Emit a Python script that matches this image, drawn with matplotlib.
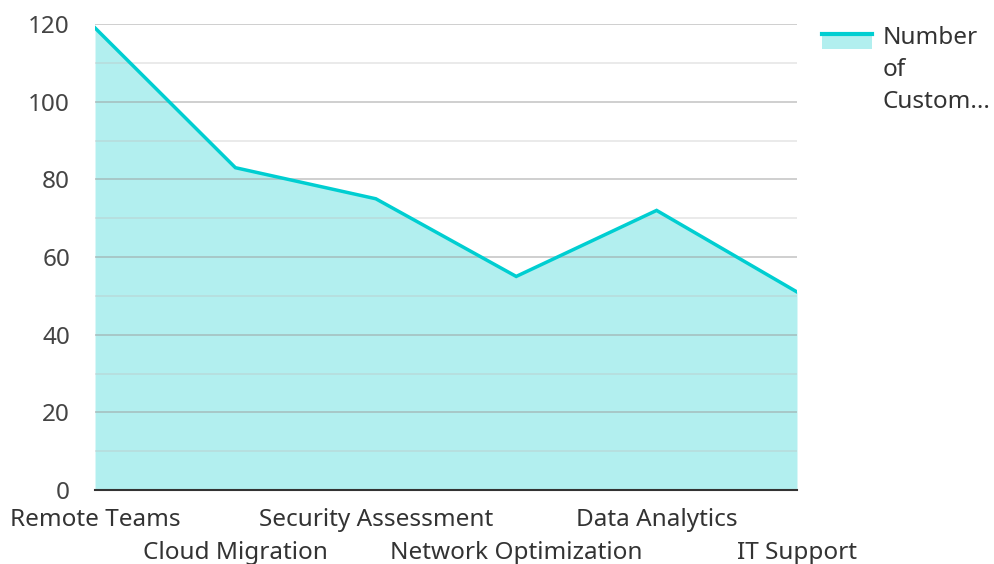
import matplotlib.pyplot as plt
from matplotlib.legend_handler import HandlerBase
from matplotlib.patches import Rectangle
from matplotlib.lines import Line2D

plt.rcParams['font.family'] = ['Noto Sans', 'DejaVu Sans']

# data
services = ["Remote Teams", "Cloud Migration", "Security Assessment",
            "Network Optimization", "Data Analytics", "IT Support"]
customers = [119, 83, 75, 55, 72, 51]

line_color = "#00CED1"
fill_color = "#B2EFEF"


class AreaHandler(HandlerBase):
    # legend key sits beside the first line of a wrapped label
    def create_artists(self, legend, orig, xd, yd, w, h, fontsize, trans):
        y0 = yd + fontsize * 1.3
        box = Rectangle((xd, y0), w, h, facecolor=fill_color,
                        edgecolor="none", transform=trans)
        top = Line2D([xd, xd + w], [y0 + h, y0 + h],
                     color=line_color, lw=3, transform=trans)
        return [box, top]


fig = plt.figure(figsize=(9.94, 5.64), dpi=100)
ax = fig.add_axes([0.0956, 0.1312, 0.7062, 0.8262])

x = list(range(len(services)))
ax.fill_between(x, customers, 0, color=fill_color, lw=0, zorder=1)
ax.plot(x, customers, color=line_color, lw=2.5, solid_joinstyle="miter", zorder=3)

ax.set_xlim(0, len(services) - 1)
ax.set_ylim(0, 120)
ax.set_yticks(range(0, 121, 20))
ax.set_yticks(range(10, 120, 20), minor=True)
ax.set_axisbelow(False)
ax.grid(which="major", axis="y", color="#9a9a9a", lw=1.2, alpha=0.55, zorder=2)
ax.grid(which="minor", axis="y", color="#c0c0c0", lw=1.2, alpha=0.4, zorder=2)

for s in ["top", "right", "left"]:
    ax.spines[s].set_visible(False)
ax.spines["bottom"].set_color("#333333")
ax.spines["bottom"].set_linewidth(1.5)
ax.spines["bottom"].set_zorder(5)

ax.set_xticks(x)
ax.set_xticklabels(services)
ax.tick_params(axis="x", length=0, labelsize=17.5, labelcolor="#333333")
for i, tk in enumerate(ax.xaxis.get_major_ticks()):
    tk.set_pad(13 if i % 2 == 0 else 37)
ax.tick_params(axis="y", which="both", length=0, pad=18, labelsize=17.5,
               labelcolor="#444444")

handle = Rectangle((0, 0), 1, 1)
leg = ax.legend([handle], ["Number\nof\nCustom..."],
                handler_map={Rectangle: AreaHandler()},
                loc="upper left", bbox_to_anchor=(1.036, 0.9957), frameon=False,
                fontsize=17.5, handlelength=2.05, handleheight=0.55,
                handletextpad=0.42, borderaxespad=0, borderpad=0)
for t in leg.get_texts():
    t.set_linespacing(1.45)
    t.set_color("#333333")

fig.savefig("out.png", dpi=100)
